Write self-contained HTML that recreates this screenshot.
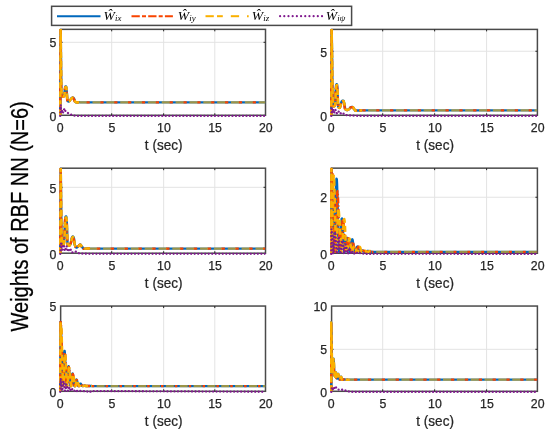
<!DOCTYPE html>
<html><head><meta charset="utf-8"><style>html,body{margin:0;padding:0;background:#fff;overflow:hidden}svg{display:block}</style></head><body>
<svg width="550" height="433" viewBox="0 0 550 433">
<rect width="550" height="433" fill="#fff"/>
<defs>
<clipPath id="cA"><rect x="59.05" y="29.05" width="206.45" height="88.11999999999999"/></clipPath>
<clipPath id="cB"><rect x="330.0" y="29.099999999999998" width="207.39999999999995" height="88.06000000000002"/></clipPath>
<clipPath id="cC"><rect x="59.05" y="167.89999999999998" width="206.45" height="87.2"/></clipPath>
<clipPath id="cD"><rect x="330.0" y="167.85" width="207.39999999999995" height="87.3"/></clipPath>
<clipPath id="cE"><rect x="59.05" y="305.75" width="206.45" height="87.45"/></clipPath>
<clipPath id="cF"><rect x="330.0" y="305.75" width="207.39999999999995" height="87.45"/></clipPath>
</defs>
<line x1="111.70" y1="29.35" x2="111.70" y2="115.27" stroke="#e3e3e3" stroke-width="1"/>
<line x1="163.65" y1="29.35" x2="163.65" y2="115.27" stroke="#e3e3e3" stroke-width="1"/>
<line x1="214.80" y1="29.35" x2="214.80" y2="115.27" stroke="#e3e3e3" stroke-width="1"/>
<line x1="60.65" y1="42.30" x2="265.5" y2="42.30" stroke="#e3e3e3" stroke-width="1"/>
<rect x="60.65" y="29.35" width="204.85" height="85.92" fill="none" stroke="#4a4a4a" stroke-width="1.5"/>
<line x1="111.70" y1="115.27" x2="111.70" y2="113.27" stroke="#262626" stroke-width="1"/>
<line x1="111.70" y1="29.35" x2="111.70" y2="31.35" stroke="#262626" stroke-width="1"/>
<line x1="163.65" y1="115.27" x2="163.65" y2="113.27" stroke="#262626" stroke-width="1"/>
<line x1="163.65" y1="29.35" x2="163.65" y2="31.35" stroke="#262626" stroke-width="1"/>
<line x1="214.80" y1="115.27" x2="214.80" y2="113.27" stroke="#262626" stroke-width="1"/>
<line x1="214.80" y1="29.35" x2="214.80" y2="31.35" stroke="#262626" stroke-width="1"/>
<line x1="60.65" y1="42.30" x2="62.65" y2="42.30" stroke="#262626" stroke-width="1"/>
<line x1="265.5" y1="42.30" x2="263.50" y2="42.30" stroke="#262626" stroke-width="1"/>
<g clip-path="url(#cA)" fill="none" stroke-width="2.5" stroke-linejoin="round">
<polyline points="60.20,115.27 60.60,29.60 60.80,44.60 61.00,60.00 61.20,79.15 61.40,92.00 61.60,94.43 61.80,95.75 62.00,96.11 62.20,96.28 62.40,96.40 62.60,96.48 62.80,96.50 63.00,96.49 63.20,96.45 63.40,96.38 63.60,96.28 63.80,96.16 64.00,96.00 64.20,95.21 64.40,93.65 64.60,92.00 64.80,90.31 65.00,88.62 65.20,87.49 65.40,86.66 65.60,86.46 65.80,86.42 66.00,86.40 66.20,86.91 66.40,88.00 66.60,89.99 66.80,92.74 67.00,95.25 67.20,97.97 67.40,100.05 67.60,100.67 67.80,100.97 68.00,101.20 68.20,101.37 68.40,101.47 68.60,101.50 68.80,101.46 69.00,101.34 69.20,101.16 69.40,100.94 69.60,100.69 69.80,100.43 70.00,100.16 70.20,99.91 70.40,99.69 70.60,99.43 70.80,99.15 71.00,98.87 71.20,98.59 71.40,98.35 71.60,98.14 71.80,98.00 72.00,97.89 72.20,97.79 72.40,97.71 72.60,97.64 72.80,97.60 73.00,97.62 73.20,97.73 73.40,97.93 73.60,98.19 73.80,98.49 74.00,98.80 74.20,99.21 74.40,99.78 74.60,100.41 74.80,101.02 75.00,101.51 75.20,101.80 75.40,101.95 75.60,102.09 75.80,102.22 76.00,102.33 76.20,102.42 76.40,102.50 76.60,102.55 76.80,102.59 77.00,102.60 77.20,102.59 77.40,102.57 77.60,102.54 77.80,102.49 78.00,102.45 78.20,102.41 78.40,102.36 78.60,102.33 78.80,102.31 79.00,102.30 79.20,102.30 79.40,102.31 79.60,102.32 79.80,102.33 80.00,102.35" stroke="#0068BD"/>
<polyline points="60.20,115.27 60.60,29.60 60.80,56.81 61.00,76.97 61.20,91.20 61.40,94.35 61.60,95.87 61.80,96.37 62.00,96.55 62.20,96.68 62.40,96.76 62.60,96.79 62.80,96.79 63.00,96.75 63.20,96.70 63.40,96.61 63.60,96.50 63.80,96.36 64.00,95.85 64.20,94.49 64.40,92.88 64.60,91.34 64.80,89.67 65.00,88.48 65.20,87.60 65.40,87.27 65.60,87.22 65.80,87.20 66.00,87.48 66.20,88.44 66.40,90.02 66.60,92.57 66.80,94.99 67.00,97.56 67.20,99.79 67.40,100.68 67.60,100.98 67.80,101.21 68.00,101.38 68.20,101.49 68.40,101.54 68.60,101.52 68.80,101.42 69.00,101.27 69.20,101.07 69.40,100.84 69.60,100.59 69.80,100.33 70.00,100.09 70.20,99.87 70.40,99.64 70.60,99.38 70.80,99.11 71.00,98.84 71.20,98.60 71.40,98.40 71.60,98.25 71.80,98.14 72.00,98.04 72.20,97.96 72.40,97.89 72.60,97.85 72.80,97.84 73.00,97.92 73.20,98.10 73.40,98.34 73.60,98.61 73.80,98.91 74.00,99.25 74.20,99.76 74.40,100.35 74.60,100.94 74.80,101.45 75.00,101.78 75.20,101.94 75.40,102.07 75.60,102.20 75.80,102.31 76.00,102.40 76.20,102.47 76.40,102.53 76.60,102.57 76.80,102.59 77.00,102.58 77.20,102.56 77.40,102.53 77.60,102.50 77.80,102.46 78.00,102.41 78.20,102.37 78.40,102.34 78.60,102.31 78.80,102.30 79.00,102.30 79.20,102.30 79.40,102.31 79.60,102.32 79.80,102.33 80.00,102.35" stroke="#F84400" stroke-dasharray="6,2,1.5,2"/>
<polyline points="60.20,115.27 60.60,29.60 60.80,41.38 61.00,54.38 61.20,69.79 61.40,87.95 61.60,93.63 61.80,95.44 62.00,96.19 62.20,96.38 62.40,96.53 62.60,96.62 62.80,96.67 63.00,96.67 63.20,96.65 63.40,96.60 63.60,96.52 63.80,96.41 64.00,96.27 64.20,95.94 64.40,94.72 64.60,93.08 64.80,91.53 65.00,89.81 65.20,88.43 65.40,87.48 65.60,86.98 65.80,86.91 66.00,86.88 66.20,87.01 66.40,87.87 66.60,89.22 66.80,91.68 67.00,94.25 67.20,96.79 67.40,99.25 67.60,100.56 67.80,100.88 68.00,101.13 68.20,101.33 68.40,101.45 68.60,101.52 68.80,101.51 69.00,101.44 69.20,101.29 69.40,101.10 69.60,100.87 69.80,100.61 70.00,100.36 70.20,100.10 70.40,99.88 70.60,99.64 70.80,99.38 71.00,99.11 71.20,98.84 71.40,98.58 71.60,98.36 71.80,98.19 72.00,98.08 72.20,97.98 72.40,97.88 72.60,97.81 72.80,97.76 73.00,97.74 73.20,97.80 73.40,97.96 73.60,98.19 73.80,98.46 74.00,98.76 74.20,99.08 74.40,99.57 74.60,100.16 74.80,100.77 75.00,101.31 75.20,101.71 75.40,101.89 75.60,102.03 75.80,102.16 76.00,102.28 76.20,102.38 76.40,102.46 76.60,102.52 76.80,102.57 77.00,102.59 77.20,102.59 77.40,102.57 77.60,102.55 77.80,102.51 78.00,102.47 78.20,102.43 78.40,102.38 78.60,102.35 78.80,102.32 79.00,102.30 79.20,102.30 79.40,102.31 79.60,102.32 79.80,102.33 80.00,102.35" stroke="#FAB000" stroke-dasharray="6,3"/>
<g stroke-width="2.2">
<line x1="80.0" y1="102.35" x2="265.5" y2="102.35" stroke="#0068BD"/>
<line x1="80.0" y1="102.35" x2="265.5" y2="102.35" stroke="#F84400" stroke-dasharray="3.3,10.55" stroke-dashoffset="7.40"/>
<line x1="80.0" y1="102.35" x2="265.5" y2="102.35" stroke="#FAB000" stroke-opacity="0.62" stroke-dasharray="8,5.85" stroke-dashoffset="1.35"/>
</g>
<polyline points="60.20,115.90 60.70,105.00 60.90,108.85 61.10,111.81 61.30,113.00 61.50,112.62 61.70,111.75 61.90,110.78 62.10,110.10 62.30,110.07 62.50,110.54 62.70,111.25 62.90,111.96 63.10,112.43 63.30,112.43 63.50,111.96 63.70,111.18 63.90,110.27 64.10,109.40 64.30,108.75 64.50,108.50 64.70,108.73 64.90,109.29 65.10,110.03 65.30,110.77 65.50,111.33 65.70,111.61 65.90,111.80 66.10,111.96 66.30,112.10 66.50,112.22 66.70,112.33 66.90,112.44 67.10,112.56 67.30,112.67 67.50,112.78 67.70,112.88 67.90,112.98 68.10,113.07 68.30,113.17 68.50,113.26 68.70,113.35 68.90,113.45 69.10,113.55 69.30,113.65 69.50,113.76 69.70,113.87 69.90,113.97 70.10,114.08 70.30,114.18 70.50,114.28 70.70,114.37 70.90,114.46 71.10,114.54 71.30,114.62 71.50,114.70 71.70,114.78 71.90,114.86 72.10,114.94 72.30,115.02 72.50,115.09 72.70,115.16 72.90,115.23 73.10,115.29 73.30,115.35 73.50,115.40 73.70,115.44 73.90,115.48 74.10,115.52 74.30,115.55 74.50,115.58 74.70,115.61 74.90,115.64 75.10,115.67 75.30,115.69 75.50,115.72 75.70,115.74 75.90,115.77 76.10,115.79 76.30,115.81 76.50,115.83 76.70,115.85 76.90,115.86 77.10,115.87 77.30,115.88 77.50,115.89 77.70,115.90 77.90,115.90 78.10,115.90 78.30,115.90 78.50,115.90 78.70,115.90 78.90,115.90 79.10,115.90 79.30,115.90 79.50,115.90 79.70,115.90 79.90,115.90 80.10,115.90 80.30,115.90 80.50,115.90 80.70,115.90 80.90,115.90 81.10,115.90 81.30,115.90 81.50,115.90 81.70,115.90 81.90,115.90 265.5,115.9" stroke="#801a8e" stroke-dasharray="0.01,3.5" stroke-linecap="round" stroke-width="2.3"/>
</g>
<g font-family="Liberation Sans, Arial, sans-serif" font-size="12.3" fill="#262626" stroke="#262626" stroke-width="0.25">
<text x="60.25" y="132.27" text-anchor="middle">0</text>
<text x="112.00" y="132.27" text-anchor="middle">5</text>
<text x="163.95" y="132.27" text-anchor="middle">10</text>
<text x="215.10" y="132.27" text-anchor="middle">15</text>
<text x="265.80" y="132.27" text-anchor="middle">20</text>
<text x="56.25" y="121.02" text-anchor="end">0</text>
<text x="56.25" y="47.30" text-anchor="end">5</text>
</g>
<text transform="translate(163.67,149.87) scale(0.93,1)" text-anchor="middle" font-family="Liberation Sans, Arial, sans-serif" font-size="14.6" fill="#262626" stroke="#262626" stroke-width="0.25">t (sec)</text>
<line x1="382.70" y1="29.4" x2="382.70" y2="115.26" stroke="#e3e3e3" stroke-width="1"/>
<line x1="434.65" y1="29.4" x2="434.65" y2="115.26" stroke="#e3e3e3" stroke-width="1"/>
<line x1="486.60" y1="29.4" x2="486.60" y2="115.26" stroke="#e3e3e3" stroke-width="1"/>
<line x1="331.6" y1="51.25" x2="537.4" y2="51.25" stroke="#e3e3e3" stroke-width="1"/>
<rect x="331.6" y="29.4" width="205.80" height="85.86" fill="none" stroke="#4a4a4a" stroke-width="1.5"/>
<line x1="382.70" y1="115.26" x2="382.70" y2="113.26" stroke="#262626" stroke-width="1"/>
<line x1="382.70" y1="29.4" x2="382.70" y2="31.40" stroke="#262626" stroke-width="1"/>
<line x1="434.65" y1="115.26" x2="434.65" y2="113.26" stroke="#262626" stroke-width="1"/>
<line x1="434.65" y1="29.4" x2="434.65" y2="31.40" stroke="#262626" stroke-width="1"/>
<line x1="486.60" y1="115.26" x2="486.60" y2="113.26" stroke="#262626" stroke-width="1"/>
<line x1="486.60" y1="29.4" x2="486.60" y2="31.40" stroke="#262626" stroke-width="1"/>
<line x1="331.6" y1="51.25" x2="333.60" y2="51.25" stroke="#262626" stroke-width="1"/>
<line x1="537.4" y1="51.25" x2="535.40" y2="51.25" stroke="#262626" stroke-width="1"/>
<g clip-path="url(#cB)" fill="none" stroke-width="2.5" stroke-linejoin="round">
<polyline points="331.30,115.26 331.60,29.60 331.80,40.14 332.00,52.95 332.20,68.80 332.40,88.70 332.60,98.70 332.80,104.03 333.00,105.23 333.20,105.61 333.40,105.88 333.60,106.07 333.80,106.17 334.00,106.20 334.20,106.15 334.40,105.98 334.60,105.68 334.80,105.26 335.00,104.70 335.20,104.00 335.40,99.93 335.60,93.34 335.80,89.36 336.00,86.50 336.20,85.00 336.40,84.57 336.60,84.30 336.80,84.20 337.00,84.75 337.20,86.12 337.40,88.54 337.60,93.62 337.80,98.21 338.00,102.92 338.20,106.37 338.40,107.13 338.60,107.35 338.80,107.52 339.00,107.65 339.20,107.73 339.40,107.78 339.60,107.80 339.80,107.64 340.00,107.21 340.20,106.60 340.40,105.89 340.60,105.16 340.80,104.50 341.00,103.79 341.20,102.97 341.40,102.17 341.60,101.53 341.80,101.20 342.00,101.07 342.20,100.96 342.40,100.87 342.60,100.80 342.80,100.74 343.00,100.71 343.20,100.70 343.40,100.84 343.60,101.21 343.80,101.76 344.00,102.42 344.20,103.14 344.40,103.94 344.60,105.22 344.80,106.74 345.00,108.15 345.20,109.10 345.40,109.38 345.60,109.53 345.80,109.65 346.00,109.76 346.20,109.85 346.40,109.91 346.60,109.96 346.80,109.99 347.00,110.00 347.20,109.99 347.40,109.95 347.60,109.90 347.80,109.83 348.00,109.75 348.20,109.65 348.40,109.54 348.60,109.43 348.80,109.32 349.00,109.20 349.20,109.05 349.40,108.84 349.60,108.59 349.80,108.32 350.00,108.05 350.20,107.79 350.40,107.57 350.60,107.40 350.80,107.30 351.00,107.24 351.20,107.19 351.40,107.14 351.60,107.10 351.80,107.06 352.00,107.03 352.20,107.01 352.40,107.00 352.60,107.02 352.80,107.13 353.00,107.33 353.20,107.59 353.40,107.89 353.60,108.21 353.80,108.52 354.00,108.80 354.20,109.09 354.40,109.42 354.60,109.78 354.80,110.12 355.00,110.42 355.20,110.65 355.40,110.78 355.60,110.80 355.80,110.78 356.00,110.76 356.20,110.72 356.40,110.68 356.60,110.64 356.80,110.59 357.00,110.54 357.20,110.50 357.40,110.46 357.60,110.43 357.80,110.41 358.00,110.40 358.20,110.40 358.40,110.40 358.60,110.40 358.80,110.40 359.00,110.40 359.20,110.40 359.40,110.40 359.60,110.40 359.80,110.40 360.00,110.41 360.20,110.41 360.40,110.41 360.60,110.41 360.80,110.42 361.00,110.42 361.20,110.43 361.40,110.43 361.60,110.44 361.80,110.44 362.00,110.45" stroke="#0068BD"/>
<polyline points="331.30,115.26 331.60,29.60 331.80,48.88 332.00,67.13 332.20,86.19 332.40,97.58 332.60,103.43 332.80,105.38 333.00,105.77 333.20,106.05 333.40,106.25 333.60,106.36 333.80,106.41 334.00,106.38 334.20,106.25 334.40,106.00 334.60,105.63 334.80,105.14 335.00,104.50 335.20,101.87 335.40,95.67 335.60,91.19 335.80,88.29 336.00,86.46 336.20,85.96 336.40,85.66 336.60,85.52 336.80,85.81 337.00,86.96 337.20,88.77 337.40,93.19 337.60,97.74 337.80,102.22 338.00,105.98 338.20,107.23 338.40,107.45 338.60,107.63 338.80,107.76 339.00,107.85 339.20,107.91 339.40,107.93 339.60,107.84 339.80,107.49 340.00,106.95 340.20,106.29 340.40,105.60 340.60,104.94 340.80,104.31 341.00,103.54 341.20,102.76 341.40,102.11 341.60,101.71 341.80,101.57 342.00,101.46 342.20,101.37 342.40,101.30 342.60,101.24 342.80,101.20 343.00,101.19 343.20,101.26 343.40,101.57 343.60,102.05 343.80,102.66 344.00,103.33 344.20,104.04 344.40,105.15 344.60,106.56 344.80,107.96 345.00,109.00 345.20,109.40 345.40,109.54 345.60,109.66 345.80,109.77 346.00,109.86 346.20,109.93 346.40,109.98 346.60,110.01 346.80,110.02 347.00,110.02 347.20,109.99 347.40,109.94 347.60,109.88 347.80,109.80 348.00,109.71 348.20,109.62 348.40,109.51 348.60,109.40 348.80,109.29 349.00,109.16 349.20,108.97 349.40,108.75 349.60,108.49 349.80,108.23 350.00,107.99 350.20,107.76 350.40,107.59 350.60,107.47 350.80,107.42 351.00,107.36 351.20,107.32 351.40,107.27 351.60,107.24 351.80,107.21 352.00,107.19 352.20,107.18 352.40,107.18 352.60,107.26 352.80,107.43 353.00,107.67 353.20,107.95 353.40,108.25 353.60,108.55 353.80,108.82 354.00,109.08 354.20,109.39 354.40,109.73 354.60,110.06 354.80,110.36 355.00,110.60 355.20,110.75 355.40,110.78 355.60,110.77 355.80,110.75 356.00,110.72 356.20,110.68 356.40,110.64 356.60,110.59 356.80,110.55 357.00,110.50 357.20,110.47 357.40,110.44 357.60,110.41 357.80,110.40 358.00,110.40 358.20,110.40 358.40,110.40 358.60,110.40 358.80,110.40 359.00,110.40 359.20,110.40 359.40,110.40 359.60,110.41 359.80,110.41 360.00,110.41 360.20,110.41 360.40,110.41 360.60,110.42 360.80,110.42 361.00,110.42 361.20,110.43 361.40,110.43 361.60,110.44 361.80,110.44 362.00,110.45" stroke="#F84400" stroke-dasharray="6,2,1.5,2"/>
<polyline points="331.30,115.26 331.60,29.60 331.80,37.96 332.00,48.86 332.20,61.51 332.40,79.92 332.60,95.46 332.80,102.08 333.00,105.16 333.20,105.58 333.40,105.90 333.60,106.12 333.80,106.26 334.00,106.32 334.20,106.31 334.40,106.21 334.60,105.98 334.80,105.64 335.00,105.16 335.20,104.55 335.40,102.90 335.60,96.99 335.80,91.58 336.00,88.50 336.20,86.27 336.40,85.54 336.60,85.20 336.80,85.01 337.00,85.13 337.20,86.11 337.40,87.70 337.60,91.53 337.80,96.43 338.00,100.90 338.20,105.10 338.40,107.10 338.60,107.34 338.80,107.53 339.00,107.67 339.20,107.78 339.40,107.84 339.60,107.88 339.80,107.84 340.00,107.54 340.20,107.03 340.40,106.38 340.60,105.67 340.80,104.99 341.00,104.36 341.20,103.60 341.40,102.80 341.60,102.08 341.80,101.59 342.00,101.41 342.20,101.30 342.40,101.20 342.60,101.12 342.80,101.06 343.00,101.02 343.20,101.00 343.40,101.03 343.60,101.28 343.80,101.74 344.00,102.33 344.20,103.01 344.40,103.71 344.60,104.71 344.80,106.11 345.00,107.57 345.20,108.76 345.40,109.33 345.60,109.49 345.80,109.62 346.00,109.73 346.20,109.82 346.40,109.90 346.60,109.96 346.80,109.99 347.00,110.01 347.20,110.01 347.40,109.99 347.60,109.95 347.80,109.89 348.00,109.81 348.20,109.72 348.40,109.62 348.60,109.52 348.80,109.41 349.00,109.29 349.20,109.17 349.40,108.99 349.60,108.77 349.80,108.52 350.00,108.25 350.20,108.00 350.40,107.76 350.60,107.57 350.80,107.43 351.00,107.37 351.20,107.31 351.40,107.26 351.60,107.22 351.80,107.18 352.00,107.15 352.20,107.12 352.40,107.11 352.60,107.10 352.80,107.16 353.00,107.31 353.20,107.54 353.40,107.82 353.60,108.12 353.80,108.43 354.00,108.72 354.20,108.98 354.40,109.29 354.60,109.62 354.80,109.97 355.00,110.28 355.20,110.55 355.40,110.72 355.60,110.79 355.80,110.78 356.00,110.76 356.20,110.73 356.40,110.70 356.60,110.65 356.80,110.61 357.00,110.56 357.20,110.52 357.40,110.48 357.60,110.44 357.80,110.42 358.00,110.40 358.20,110.40 358.40,110.40 358.60,110.40 358.80,110.40 359.00,110.40 359.20,110.40 359.40,110.40 359.60,110.40 359.80,110.41 360.00,110.41 360.20,110.41 360.40,110.41 360.60,110.41 360.80,110.42 361.00,110.42 361.20,110.43 361.40,110.43 361.60,110.44 361.80,110.44 362.00,110.45" stroke="#FAB000" stroke-dasharray="6,3"/>
<g stroke-width="2.2">
<line x1="362.0" y1="110.45" x2="537.4" y2="110.45" stroke="#0068BD"/>
<line x1="362.0" y1="110.45" x2="537.4" y2="110.45" stroke="#F84400" stroke-dasharray="3.3,10.55" stroke-dashoffset="13.50"/>
<line x1="362.0" y1="110.45" x2="537.4" y2="110.45" stroke="#FAB000" stroke-opacity="0.62" stroke-dasharray="8,5.85" stroke-dashoffset="7.65"/>
</g>
<polyline points="331.30,115.90 331.80,108.50 332.00,110.13 332.20,111.39 332.40,112.21 332.60,112.50 332.80,112.12 333.00,111.25 333.20,110.28 333.40,109.60 333.60,109.59 333.80,110.21 334.00,111.15 334.20,112.09 334.40,112.71 334.60,112.73 334.80,112.29 335.00,111.59 335.20,110.84 335.40,110.24 335.60,110.00 335.80,110.24 336.00,110.83 336.20,111.60 336.40,112.37 336.60,112.96 336.80,113.20 337.00,113.08 337.20,112.76 337.40,112.33 337.60,111.87 337.80,111.44 338.00,111.12 338.20,111.00 338.40,111.12 338.60,111.44 338.80,111.89 339.00,112.40 339.20,112.91 339.40,113.36 339.60,113.68 339.80,113.80 340.00,113.77 340.20,113.69 340.40,113.56 340.60,113.41 340.80,113.24 341.00,113.06 341.20,112.89 341.40,112.74 341.60,112.61 341.80,112.53 342.00,112.50 342.20,112.53 342.40,112.60 342.60,112.72 342.80,112.86 343.00,113.04 343.20,113.24 343.40,113.45 343.60,113.66 343.80,113.88 344.00,114.09 344.20,114.29 344.40,114.46 344.60,114.61 344.80,114.73 345.00,114.80 345.20,114.85 345.40,114.90 345.60,114.94 345.80,114.98 346.00,115.02 346.20,115.06 346.40,115.10 346.60,115.13 346.80,115.17 347.00,115.20 347.20,115.23 347.40,115.26 347.60,115.28 347.80,115.31 348.00,115.33 348.20,115.35 348.40,115.37 348.60,115.39 348.80,115.41 349.00,115.43 349.20,115.45 349.40,115.46 349.60,115.47 349.80,115.49 350.00,115.50 350.20,115.51 350.40,115.52 350.60,115.53 350.80,115.55 351.00,115.56 351.20,115.57 351.40,115.58 351.60,115.59 351.80,115.60 352.00,115.61 352.20,115.62 352.40,115.63 352.60,115.64 352.80,115.65 353.00,115.66 353.20,115.67 353.40,115.68 353.60,115.69 353.80,115.70 354.00,115.71 354.20,115.72 354.40,115.73 354.60,115.73 354.80,115.74 355.00,115.75 355.20,115.76 355.40,115.77 355.60,115.77 355.80,115.78 356.00,115.79 356.20,115.80 356.40,115.80 356.60,115.81 356.80,115.81 357.00,115.82 357.20,115.83 357.40,115.83 357.60,115.84 357.80,115.84 358.00,115.85 358.20,115.85 358.40,115.86 358.60,115.86 358.80,115.87 359.00,115.87 359.20,115.87 359.40,115.88 359.60,115.88 359.80,115.88 360.00,115.89 360.20,115.89 360.40,115.89 360.60,115.89 360.80,115.90 361.00,115.90 361.20,115.90 361.40,115.90 361.60,115.90 361.80,115.90 362.00,115.90 537.4,115.9" stroke="#801a8e" stroke-dasharray="0.01,3.5" stroke-linecap="round" stroke-width="2.3"/>
</g>
<g font-family="Liberation Sans, Arial, sans-serif" font-size="12.3" fill="#262626" stroke="#262626" stroke-width="0.25">
<text x="331.20" y="132.26" text-anchor="middle">0</text>
<text x="383.00" y="132.26" text-anchor="middle">5</text>
<text x="434.95" y="132.26" text-anchor="middle">10</text>
<text x="486.90" y="132.26" text-anchor="middle">15</text>
<text x="537.70" y="132.26" text-anchor="middle">20</text>
<text x="327.20" y="121.01" text-anchor="end">0</text>
<text x="327.20" y="57.00" text-anchor="end">5</text>
</g>
<text transform="translate(435.10,149.86) scale(0.93,1)" text-anchor="middle" font-family="Liberation Sans, Arial, sans-serif" font-size="14.6" fill="#262626" stroke="#262626" stroke-width="0.25">t (sec)</text>
<line x1="111.70" y1="168.2" x2="111.70" y2="253.2" stroke="#e3e3e3" stroke-width="1"/>
<line x1="163.65" y1="168.2" x2="163.65" y2="253.2" stroke="#e3e3e3" stroke-width="1"/>
<line x1="214.80" y1="168.2" x2="214.80" y2="253.2" stroke="#e3e3e3" stroke-width="1"/>
<line x1="60.65" y1="187.30" x2="265.5" y2="187.30" stroke="#e3e3e3" stroke-width="1"/>
<rect x="60.65" y="168.2" width="204.85" height="85.00" fill="none" stroke="#4a4a4a" stroke-width="1.5"/>
<line x1="111.70" y1="253.2" x2="111.70" y2="251.20" stroke="#262626" stroke-width="1"/>
<line x1="111.70" y1="168.2" x2="111.70" y2="170.20" stroke="#262626" stroke-width="1"/>
<line x1="163.65" y1="253.2" x2="163.65" y2="251.20" stroke="#262626" stroke-width="1"/>
<line x1="163.65" y1="168.2" x2="163.65" y2="170.20" stroke="#262626" stroke-width="1"/>
<line x1="214.80" y1="253.2" x2="214.80" y2="251.20" stroke="#262626" stroke-width="1"/>
<line x1="214.80" y1="168.2" x2="214.80" y2="170.20" stroke="#262626" stroke-width="1"/>
<line x1="60.65" y1="187.30" x2="62.65" y2="187.30" stroke="#262626" stroke-width="1"/>
<line x1="265.5" y1="187.30" x2="263.50" y2="187.30" stroke="#262626" stroke-width="1"/>
<g clip-path="url(#cC)" fill="none" stroke-width="2.5" stroke-linejoin="round">
<polyline points="60.20,253.20 60.70,168.50 60.90,183.82 61.10,200.00 61.30,219.78 61.50,235.00 61.70,241.54 61.90,244.50 62.10,244.77 62.30,244.97 62.50,245.10 62.70,245.18 62.90,245.20 63.10,245.14 63.30,244.95 63.50,244.64 63.70,244.24 63.90,243.53 64.10,241.50 64.30,238.47 64.50,235.00 64.70,229.85 64.90,224.00 65.10,220.59 65.30,218.22 65.50,217.00 65.70,216.63 65.90,216.43 66.10,216.48 66.30,217.04 66.50,218.00 66.70,220.81 66.90,225.57 67.10,230.82 67.30,237.94 67.50,243.60 67.70,244.72 67.90,244.94 68.10,245.11 68.30,245.25 68.50,245.36 68.70,245.43 68.90,245.48 69.10,245.50 69.30,245.49 69.50,245.38 69.70,245.18 69.90,244.90 70.10,244.55 70.30,244.15 70.50,243.71 70.70,243.24 70.90,242.71 71.10,241.85 71.30,240.78 71.50,239.67 71.70,238.69 71.90,238.00 72.10,237.52 72.30,237.08 72.50,236.73 72.70,236.53 72.90,236.52 73.10,236.67 73.30,236.94 73.50,237.31 73.70,237.76 73.90,238.37 74.10,239.71 74.30,241.49 74.50,243.26 74.70,244.62 74.90,245.25 75.10,245.73 75.30,246.16 75.50,246.55 75.70,246.87 75.90,247.14 76.10,247.34 76.30,247.46 76.50,247.50 76.70,247.47 76.90,247.39 77.10,247.28 77.30,247.12 77.50,246.95 77.70,246.75 77.90,246.56 78.10,246.36 78.30,246.17 78.50,246.00 78.70,245.82 78.90,245.62 79.10,245.40 79.30,245.19 79.50,244.98 79.70,244.81 79.90,244.68 80.10,244.61 80.30,244.61 80.50,244.72 80.70,244.91 80.90,245.16 81.10,245.46 81.30,245.78 81.50,246.11 81.70,246.41 81.90,246.68 82.10,246.91 82.30,247.15 82.50,247.40 82.70,247.65 82.90,247.90 83.10,248.13 83.30,248.34 83.50,248.50 83.70,248.63 83.90,248.69 84.10,248.70 84.30,248.69 84.50,248.69 84.70,248.67 84.90,248.66 85.10,248.64 85.30,248.62 85.50,248.60 85.70,248.58 85.90,248.56 86.10,248.54 86.30,248.53 86.50,248.51 86.70,248.51 86.90,248.50 87.10,248.50 87.30,248.50 87.50,248.50 87.70,248.51 87.90,248.51 88.10,248.52 88.30,248.53 88.50,248.53 88.70,248.54 88.90,248.56 89.10,248.57 89.30,248.58 89.50,248.60 89.70,248.62 89.90,248.64" stroke="#0068BD"/>
<polyline points="60.20,253.20 60.70,168.50 60.90,196.79 61.10,217.86 61.30,233.47 61.50,240.57 61.70,244.46 61.90,244.91 62.10,245.12 62.30,245.26 62.50,245.34 62.70,245.37 62.90,245.34 63.10,245.19 63.30,244.93 63.50,244.56 63.70,244.06 63.90,242.45 64.10,239.76 64.30,236.52 64.50,232.22 64.70,226.48 64.90,222.65 65.10,220.23 65.30,218.74 65.50,218.31 65.70,218.07 65.90,218.03 66.10,218.44 66.30,219.28 66.50,221.28 66.70,225.53 66.90,230.26 67.10,236.76 67.30,242.85 67.50,244.86 67.70,245.08 67.90,245.25 68.10,245.39 68.30,245.50 68.50,245.58 68.70,245.63 68.90,245.65 69.10,245.65 69.30,245.58 69.50,245.41 69.70,245.16 69.90,244.84 70.10,244.47 70.30,244.06 70.50,243.62 70.70,243.16 70.90,242.42 71.10,241.44 71.30,240.38 71.50,239.40 71.70,238.66 71.90,238.19 72.10,237.76 72.30,237.40 72.50,237.17 72.70,237.11 72.90,237.22 73.10,237.45 73.30,237.78 73.50,238.19 73.70,238.68 73.90,239.79 74.10,241.41 74.30,243.13 74.50,244.56 74.70,245.30 74.90,245.77 75.10,246.19 75.30,246.57 75.50,246.89 75.70,247.16 75.90,247.36 76.10,247.50 76.30,247.55 76.50,247.54 76.70,247.48 76.90,247.38 77.10,247.24 77.30,247.08 77.50,246.90 77.70,246.71 77.90,246.52 78.10,246.34 78.30,246.17 78.50,246.01 78.70,245.82 78.90,245.62 79.10,245.41 79.30,245.21 79.50,245.04 79.70,244.91 79.90,244.82 80.10,244.81 80.30,244.88 80.50,245.04 80.70,245.27 80.90,245.54 81.10,245.85 81.30,246.16 81.50,246.45 81.70,246.72 81.90,246.94 82.10,247.16 82.30,247.40 82.50,247.64 82.70,247.88 82.90,248.10 83.10,248.31 83.30,248.47 83.50,248.60 83.70,248.68 83.90,248.70 84.10,248.69 84.30,248.69 84.50,248.67 84.70,248.66 84.90,248.64 85.10,248.63 85.30,248.61 85.50,248.59 85.70,248.57 85.90,248.55 86.10,248.54 86.30,248.52 86.50,248.51 86.70,248.51 86.90,248.51 87.10,248.51 87.30,248.51 87.50,248.51 87.70,248.52 87.90,248.52 88.10,248.53 88.30,248.53 88.50,248.54 88.70,248.55 88.90,248.56 89.10,248.58 89.30,248.59 89.50,248.60 89.70,248.62 89.90,248.64" stroke="#F84400" stroke-dasharray="6,2,1.5,2"/>
<polyline points="60.20,253.20 60.70,168.50 60.90,180.51 61.10,194.15 61.30,210.28 61.50,229.46 61.70,238.86 61.90,243.78 62.10,244.77 62.30,245.00 62.50,245.15 62.70,245.25 62.90,245.30 63.10,245.29 63.30,245.16 63.50,244.92 63.70,244.58 63.90,244.14 64.10,242.86 64.30,240.33 64.50,237.11 64.70,233.23 64.90,227.43 65.10,222.80 65.30,220.18 65.50,218.36 65.70,217.76 65.90,217.47 66.10,217.37 66.30,217.66 66.50,218.42 66.70,219.91 66.90,223.85 67.10,228.62 67.30,234.73 67.50,241.43 67.70,244.72 67.90,244.95 68.10,245.14 68.30,245.29 68.50,245.41 68.70,245.49 68.90,245.55 69.10,245.58 69.30,245.59 69.50,245.54 69.70,245.39 69.90,245.15 70.10,244.85 70.30,244.48 70.50,244.07 70.70,243.63 70.90,243.17 71.10,242.50 71.30,241.55 71.50,240.47 71.70,239.44 71.90,238.61 72.10,238.09 72.30,237.63 72.50,237.24 72.70,236.97 72.90,236.86 73.10,236.94 73.30,237.15 73.50,237.46 73.70,237.86 73.90,238.32 74.10,239.25 74.30,240.81 74.50,242.59 74.70,244.16 74.90,245.11 75.10,245.59 75.30,246.03 75.50,246.43 75.70,246.78 75.90,247.06 76.10,247.29 76.30,247.44 76.50,247.52 76.70,247.53 76.90,247.48 77.10,247.38 77.30,247.25 77.50,247.09 77.70,246.91 77.90,246.71 78.10,246.52 78.30,246.33 78.50,246.16 78.70,246.00 78.90,245.81 79.10,245.61 79.30,245.39 79.50,245.19 79.70,245.01 79.90,244.86 80.10,244.76 80.30,244.72 80.50,244.77 80.70,244.92 80.90,245.14 81.10,245.41 81.30,245.71 81.50,246.03 81.70,246.33 81.90,246.62 82.10,246.86 82.30,247.08 82.50,247.31 82.70,247.56 82.90,247.80 83.10,248.04 83.30,248.25 83.50,248.43 83.70,248.57 83.90,248.67 84.10,248.70 84.30,248.70 84.50,248.69 84.70,248.68 84.90,248.66 85.10,248.65 85.30,248.63 85.50,248.61 85.70,248.59 85.90,248.57 86.10,248.55 86.30,248.54 86.50,248.52 86.70,248.51 86.90,248.51 87.10,248.50 87.30,248.51 87.50,248.51 87.70,248.51 87.90,248.51 88.10,248.52 88.30,248.53 88.50,248.54 88.70,248.55 88.90,248.56 89.10,248.57 89.30,248.59 89.50,248.60 89.70,248.62 89.90,248.64" stroke="#FAB000" stroke-dasharray="6,3"/>
<g stroke-width="2.2">
<line x1="90.0" y1="248.65" x2="265.5" y2="248.65" stroke="#0068BD"/>
<line x1="90.0" y1="248.65" x2="265.5" y2="248.65" stroke="#F84400" stroke-dasharray="3.5,10.35" stroke-dashoffset="7.10"/>
<line x1="90.0" y1="248.65" x2="265.5" y2="248.65" stroke="#FAB000" stroke-opacity="0.62" stroke-dasharray="8,5.85" stroke-dashoffset="0.75"/>
</g>
<polyline points="60.20,253.80 61.00,243.50 61.20,245.38 61.40,246.97 61.60,248.26 61.80,249.21 62.00,249.80 62.20,250.00 62.40,249.65 62.60,248.76 62.80,247.57 63.00,246.31 63.20,245.24 63.40,244.59 63.60,244.58 63.80,245.18 64.00,246.19 64.20,247.43 64.40,248.71 64.60,249.86 64.80,250.68 65.00,251.00 65.20,250.76 65.40,250.12 65.60,249.24 65.80,248.25 66.00,247.30 66.20,246.52 66.40,246.06 66.60,246.07 66.80,246.57 67.00,247.43 67.20,248.48 67.40,249.56 67.60,250.54 67.80,251.23 68.00,251.50 68.20,251.42 68.40,251.19 68.60,250.85 68.80,250.44 69.00,250.00 69.20,249.56 69.40,249.15 69.60,248.81 69.80,248.58 70.00,248.50 70.20,248.61 70.40,248.92 70.60,249.36 70.80,249.91 71.00,250.50 71.20,251.09 71.40,251.64 71.60,252.08 71.80,252.39 72.00,252.50 72.20,252.49 72.40,252.45 72.60,252.40 72.80,252.32 73.00,252.24 73.20,252.15 73.40,252.05 73.60,251.95 73.80,251.85 74.00,251.76 74.20,251.68 74.40,251.60 74.60,251.55 74.80,251.51 75.00,251.50 75.20,251.51 75.40,251.53 75.60,251.58 75.80,251.63 76.00,251.70 76.20,251.78 76.40,251.87 76.60,251.96 76.80,252.07 77.00,252.17 77.20,252.29 77.40,252.40 77.60,252.52 77.80,252.64 78.00,252.75 78.20,252.86 78.40,252.97 78.60,253.07 78.80,253.17 79.00,253.25 79.20,253.33 79.40,253.39 79.60,253.44 79.80,253.48 80.00,253.50 80.20,253.51 80.40,253.52 80.60,253.54 80.80,253.55 81.00,253.56 81.20,253.57 81.40,253.58 81.60,253.59 81.80,253.60 82.00,253.61 82.20,253.62 82.40,253.63 82.60,253.64 82.80,253.65 83.00,253.66 83.20,253.66 83.40,253.67 83.60,253.68 83.80,253.69 84.00,253.69 84.20,253.70 84.40,253.71 84.60,253.71 84.80,253.72 85.00,253.73 85.20,253.73 85.40,253.74 85.60,253.74 85.80,253.75 86.00,253.75 86.20,253.76 86.40,253.76 86.60,253.77 86.80,253.77 87.00,253.77 87.20,253.78 87.40,253.78 87.60,253.78 87.80,253.79 88.00,253.79 88.20,253.79 88.40,253.79 88.60,253.79 88.80,253.80 89.00,253.80 89.20,253.80 89.40,253.80 89.60,253.80 89.80,253.80 90.00,253.80 265.5,253.8" stroke="#801a8e" stroke-dasharray="0.01,3.5" stroke-linecap="round" stroke-width="2.3"/>
</g>
<g font-family="Liberation Sans, Arial, sans-serif" font-size="12.3" fill="#262626" stroke="#262626" stroke-width="0.25">
<text x="60.25" y="270.20" text-anchor="middle">0</text>
<text x="112.00" y="270.20" text-anchor="middle">5</text>
<text x="163.95" y="270.20" text-anchor="middle">10</text>
<text x="215.10" y="270.20" text-anchor="middle">15</text>
<text x="265.80" y="270.20" text-anchor="middle">20</text>
<text x="56.25" y="258.95" text-anchor="end">0</text>
<text x="56.25" y="193.20" text-anchor="end">5</text>
</g>
<text transform="translate(163.67,287.80) scale(0.93,1)" text-anchor="middle" font-family="Liberation Sans, Arial, sans-serif" font-size="14.6" fill="#262626" stroke="#262626" stroke-width="0.25">t (sec)</text>
<line x1="382.70" y1="168.15" x2="382.70" y2="253.25" stroke="#e3e3e3" stroke-width="1"/>
<line x1="434.65" y1="168.15" x2="434.65" y2="253.25" stroke="#e3e3e3" stroke-width="1"/>
<line x1="486.60" y1="168.15" x2="486.60" y2="253.25" stroke="#e3e3e3" stroke-width="1"/>
<line x1="331.6" y1="197.25" x2="537.4" y2="197.25" stroke="#e3e3e3" stroke-width="1"/>
<rect x="331.6" y="168.15" width="205.80" height="85.10" fill="none" stroke="#4a4a4a" stroke-width="1.5"/>
<line x1="382.70" y1="253.25" x2="382.70" y2="251.25" stroke="#262626" stroke-width="1"/>
<line x1="382.70" y1="168.15" x2="382.70" y2="170.15" stroke="#262626" stroke-width="1"/>
<line x1="434.65" y1="253.25" x2="434.65" y2="251.25" stroke="#262626" stroke-width="1"/>
<line x1="434.65" y1="168.15" x2="434.65" y2="170.15" stroke="#262626" stroke-width="1"/>
<line x1="486.60" y1="253.25" x2="486.60" y2="251.25" stroke="#262626" stroke-width="1"/>
<line x1="486.60" y1="168.15" x2="486.60" y2="170.15" stroke="#262626" stroke-width="1"/>
<line x1="331.6" y1="197.25" x2="333.60" y2="197.25" stroke="#262626" stroke-width="1"/>
<line x1="537.4" y1="197.25" x2="535.40" y2="197.25" stroke="#262626" stroke-width="1"/>
<g clip-path="url(#cD)" fill="none" stroke-width="2.5" stroke-linejoin="round">
<polyline points="331.20,253.30 331.45,168.40 331.50,168.40 331.75,171.66 332.00,178.33 332.25,187.70 332.50,198.86 332.75,210.84 333.00,222.65 333.25,233.42 333.50,242.30 333.75,248.55 334.00,251.62 334.25,251.28 334.50,247.56 334.75,240.82 335.00,231.67 335.25,220.96 335.50,209.69 335.75,198.90 336.00,189.60 336.25,182.67 336.50,178.85 336.75,179.42 337.00,184.28 337.25,192.50 337.50,202.82 337.75,213.90 338.00,224.55 338.25,233.91 338.50,241.69 338.75,247.34 339.00,250.64 339.25,251.87 339.50,251.40 339.75,249.43 340.00,246.17 340.25,241.91 340.50,237.05 340.75,232.03 341.00,227.30 341.25,223.28 341.50,220.33 341.75,218.73 342.00,218.61 342.25,219.98 342.50,222.74 342.75,226.62 343.00,231.27 343.25,236.28 343.50,241.19 343.75,245.55 344.00,248.98 344.25,251.16 344.50,251.90 344.75,251.16 345.00,249.03 345.25,245.97 345.50,242.98 345.75,240.91 346.00,240.03 346.25,239.88 346.50,239.31 346.75,238.31 347.00,237.90 347.25,238.10 347.50,238.89 347.75,240.20 348.00,241.92 348.25,243.90 348.50,245.96 348.75,247.93 349.00,249.64 349.25,250.93 349.50,251.71 349.75,251.89 350.00,251.47 350.25,250.49 350.50,249.04 350.75,247.27 351.00,245.34 351.25,243.44 351.50,241.74 351.75,240.42 352.00,239.59 352.25,239.34 352.50,239.68 352.75,240.95 353.00,243.09 353.25,245.49 353.50,247.65 353.75,249.27 354.00,250.32 354.25,251.05 354.50,251.57 354.75,251.85 355.00,251.88 355.25,251.66 355.50,251.21 355.75,250.58 356.00,249.83 356.25,249.02 356.50,248.24 356.75,247.55 357.00,247.01 357.25,246.67 357.50,246.56 357.75,246.70 358.00,247.07 358.25,247.64 358.50,248.35 358.75,249.14 359.00,249.94 359.25,250.67 359.50,251.26 359.75,251.68 360.00,251.88 360.25,251.86 360.50,251.66 360.75,251.36 361.00,251.07 361.25,250.88 361.50,250.81 361.75,250.80 362.00,250.74 362.25,250.63 362.50,250.58 362.75,250.59 363.00,250.66 363.25,250.77 363.50,250.93 363.75,251.11 364.00,251.30 364.25,251.49 364.50,251.65 364.75,251.78 365.00,251.86 365.25,251.90 365.50,251.88 365.75,251.82 366.00,251.72 366.25,251.60 366.50,251.45 366.75,251.31 367.00,251.17 367.25,251.06 367.50,250.98 367.75,250.94 368.00,250.95 368.25,250.99 368.50,251.08 368.75,251.19 369.00,251.32 369.25,251.47 369.50,251.60 369.75,251.72 370.00,251.82 370.25,251.88 370.50,251.90 370.75,251.88 371.00,251.82 371.25,251.73 371.50,251.61 371.75,251.48 372.00,251.34" stroke="#0068BD"/>
<polyline points="331.20,253.30 331.45,168.40 331.50,200.16 331.75,189.61 332.00,181.33 332.25,175.97 332.50,173.88 332.75,175.10 333.00,179.40 333.25,186.53 333.50,195.99 333.75,206.96 334.00,218.48 334.25,229.53 334.50,239.13 334.75,246.44 335.00,250.80 335.25,251.83 335.50,249.45 335.75,243.90 336.00,235.72 336.25,225.69 336.50,214.83 336.75,204.84 337.00,197.10 337.25,192.50 337.50,191.33 337.75,193.38 338.00,198.00 338.25,204.37 338.50,212.59 338.75,221.65 339.00,230.16 339.25,237.25 339.50,242.69 339.75,246.89 340.00,249.95 340.25,251.62 340.50,251.78 340.75,250.42 341.00,247.68 341.25,243.81 341.50,239.16 341.75,234.17 342.00,229.27 342.25,224.91 342.50,221.49 342.75,219.33 343.00,218.61 343.25,219.41 343.50,221.65 343.75,225.13 344.00,229.54 344.25,234.45 344.50,239.44 344.75,244.03 345.00,247.83 345.25,250.54 345.50,251.80 345.75,251.71 346.00,250.80 346.25,249.58 346.50,248.05 346.75,246.07 347.00,244.03 347.25,242.09 347.50,240.42 347.75,239.19 348.00,238.48 348.25,238.36 348.50,238.84 348.75,239.87 349.00,241.38 349.25,243.21 349.50,245.22 349.75,247.22 350.00,249.03 350.25,250.49 350.50,251.47 350.75,251.89 351.00,251.71 351.25,250.96 351.50,249.72 351.75,248.11 352.00,246.31 352.25,244.48 352.50,242.82 352.75,241.83 353.00,241.91 353.25,242.89 353.50,244.34 353.75,245.76 354.00,246.74 354.25,247.49 354.50,248.35 354.75,249.24 355.00,250.09 355.25,250.84 355.50,251.41 355.75,251.78 356.00,251.90 356.25,251.78 356.50,251.42 356.75,250.87 357.00,250.17 357.25,249.38 357.50,248.59 357.75,247.86 358.00,247.27 358.25,246.86 358.50,246.68 358.75,246.74 359.00,247.03 359.25,247.54 359.50,248.20 359.75,248.96 360.00,249.75 360.25,250.52 360.50,251.18 360.75,251.63 361.00,251.86 361.25,251.90 361.50,251.84 361.75,251.73 362.00,251.60 362.25,251.42 362.50,251.23 362.75,251.05 363.00,250.89 363.25,250.77 363.50,250.70 363.75,250.69 364.00,250.73 364.25,250.82 364.50,250.94 364.75,251.10 365.00,251.28 365.25,251.45 365.50,251.61 365.75,251.74 366.00,251.84 366.25,251.89 366.50,251.90 366.75,251.86 367.00,251.77 367.25,251.66 367.50,251.53 367.75,251.39 368.00,251.25 368.25,251.13 368.50,251.04 368.75,250.98 369.00,250.97 369.25,251.00 369.50,251.06 369.75,251.16 370.00,251.28 370.25,251.42 370.50,251.56 370.75,251.68 371.00,251.79 371.25,251.86 371.50,251.90 371.75,251.89 372.00,251.85" stroke="#F84400" stroke-dasharray="6,2,1.5,2"/>
<polyline points="331.20,253.30 331.45,168.40 331.50,249.19 331.75,243.16 332.00,234.47 332.25,224.00 332.50,212.75 332.75,201.66 333.00,191.61 333.25,183.46 333.50,178.04 333.75,175.82 334.00,177.00 334.25,181.49 334.50,188.88 334.75,198.52 335.00,209.55 335.25,220.96 335.50,231.74 335.75,240.89 336.00,247.61 336.25,251.29 336.50,251.63 336.75,248.70 337.00,243.11 337.25,235.86 337.50,228.09 337.75,220.84 338.00,214.86 338.25,210.49 338.50,208.81 338.75,209.98 339.00,213.10 339.25,216.98 339.50,220.54 339.75,224.26 340.00,228.85 340.25,233.94 340.50,239.06 340.75,243.77 341.00,247.68 341.25,250.42 341.50,251.78 341.75,251.63 342.00,249.99 342.25,247.01 342.50,242.97 342.75,238.24 343.00,233.25 343.25,228.46 343.50,224.30 343.75,221.18 344.00,219.36 344.25,219.03 344.50,220.20 344.75,222.77 345.00,226.50 345.25,231.82 345.50,238.08 345.75,243.68 346.00,247.76 346.25,250.21 346.50,251.43 346.75,251.89 347.00,251.70 347.25,250.90 347.50,249.58 347.75,247.86 348.00,245.91 348.25,243.90 348.50,242.01 348.75,240.41 349.00,239.25 349.25,238.62 349.50,238.59 349.75,239.16 350.00,240.27 350.25,241.83 350.50,243.70 350.75,245.71 351.00,247.67 351.25,249.40 351.50,250.75 351.75,251.61 352.00,251.90 352.25,251.62 352.50,250.80 352.75,249.64 353.00,248.48 353.25,247.63 353.50,247.20 353.75,247.03 354.00,246.74 354.25,246.35 354.50,246.19 354.75,246.29 355.00,246.62 355.25,247.16 355.50,247.86 355.75,248.67 356.00,249.50 356.25,250.30 356.50,250.99 356.75,251.51 357.00,251.82 357.25,251.90 357.50,251.73 357.75,251.33 358.00,250.76 358.25,250.05 358.50,249.28 358.75,248.52 359.00,247.85 359.25,247.33 359.50,247.01 359.75,246.92 360.00,247.07 360.25,247.55 360.50,248.35 360.75,249.28 361.00,250.17 361.25,250.88 361.50,251.38 361.75,251.67 362.00,251.82 362.25,251.89 362.50,251.90 362.75,251.84 363.00,251.74 363.25,251.60 363.50,251.43 363.75,251.26 364.00,251.09 364.25,250.95 364.50,250.85 364.75,250.80 365.00,250.79 365.25,250.83 365.50,250.92 365.75,251.04 366.00,251.19 366.25,251.35 366.50,251.51 366.75,251.66 367.00,251.77 367.25,251.86 367.50,251.90 367.75,251.89 368.00,251.85 368.25,251.76 368.50,251.65 368.75,251.52 369.00,251.38 369.25,251.25 369.50,251.13 369.75,251.05 370.00,251.00 370.25,250.99 370.50,251.02 370.75,251.09 371.00,251.19 371.25,251.32 371.50,251.45 371.75,251.58 372.00,251.71" stroke="#FAB000" stroke-dasharray="6,3"/>
<g stroke-width="2.2">
<line x1="372.0" y1="251.9" x2="537.4" y2="251.9" stroke="#0068BD"/>
<line x1="372.0" y1="251.9" x2="537.4" y2="251.9" stroke="#F84400" stroke-dasharray="3.0,10.85" stroke-dashoffset="1.60"/>
<line x1="372.0" y1="251.9" x2="537.4" y2="251.9" stroke="#FAB000" stroke-opacity="0.62" stroke-dasharray="8,5.85" stroke-dashoffset="9.60"/>
</g>
<polyline points="331.20,253.90 331.50,229.00 331.75,230.34 332.00,233.75 332.25,238.58 332.50,243.93 332.75,248.80 333.00,252.31 333.25,253.86 333.50,253.20 333.75,250.52 334.00,246.38 334.25,241.60 334.50,237.11 334.75,233.76 335.00,232.17 335.25,232.62 335.50,235.02 335.75,238.89 336.00,243.49 336.25,247.97 336.50,251.53 336.75,253.56 337.00,253.75 337.25,252.15 337.50,249.15 337.75,245.37 338.00,241.58 338.25,238.50 338.50,236.71 338.75,236.52 339.00,237.95 339.25,240.69 339.50,244.22 339.75,247.90 340.00,251.06 340.25,253.17 340.50,253.90 340.75,253.20 341.00,251.26 341.25,248.53 341.50,245.57 341.75,242.95 342.00,241.17 342.25,240.56 342.50,241.21 342.75,242.96 343.00,245.49 343.25,248.30 343.50,250.90 343.75,252.84 344.00,253.81 344.25,253.71 344.50,252.62 344.75,250.82 345.00,248.70 345.25,246.69 345.50,245.18 345.75,244.45 346.00,244.62 346.25,245.64 346.50,247.28 346.75,249.25 347.00,251.17 347.25,252.72 347.50,253.67 347.75,253.89 348.00,253.41 348.25,252.40 348.50,251.10 348.75,249.78 349.00,248.72 349.25,248.11 349.50,248.06 349.75,248.54 350.00,249.46 350.25,250.64 350.50,251.85 350.75,252.89 351.00,253.60 351.25,253.89 351.50,253.78 351.75,253.35 352.00,252.74 352.25,252.11 352.50,251.59 352.75,251.30 353.00,251.26 353.25,251.48 353.50,251.88 353.75,252.39 354.00,252.91 354.25,253.37 354.50,253.70 354.75,253.87 355.00,253.89 355.25,253.76 355.50,253.52 355.75,253.23 356.00,252.95 356.25,252.72 356.50,252.60 356.75,252.61 357.00,252.73 357.25,252.94 357.50,253.21 357.75,253.48 358.00,253.70 358.25,253.85 358.50,253.90 358.75,253.85 359.00,253.73 359.25,253.56 359.50,253.38 359.75,253.22 360.00,253.13 360.25,253.11 360.50,253.16 360.75,253.27 361.00,253.43 361.25,253.59 361.50,253.74 361.75,253.84 362.00,253.90 362.25,253.89 362.50,253.84 362.75,253.75 363.00,253.65 363.25,253.56 363.50,253.50 363.75,253.47 364.00,253.49 364.25,253.54 364.50,253.62 364.75,253.71 365.00,253.79 365.25,253.85 365.50,253.89 365.75,253.90 366.00,253.88 366.25,253.84 366.50,253.80 366.75,253.75 367.00,253.72 367.25,253.70 367.50,253.70 367.75,253.72 368.00,253.75 368.25,253.79 368.50,253.83 368.75,253.87 369.00,253.89 369.25,253.90 369.50,253.90 369.75,253.88 370.00,253.86 370.25,253.84 370.50,253.82 370.75,253.80 371.00,253.80 371.25,253.80 371.50,253.81 371.75,253.83 372.00,253.85 537.4,253.9" stroke="#801a8e" stroke-dasharray="0.01,3.5" stroke-linecap="round" stroke-width="2.3"/>
</g>
<g font-family="Liberation Sans, Arial, sans-serif" font-size="12.3" fill="#262626" stroke="#262626" stroke-width="0.25">
<text x="331.20" y="270.25" text-anchor="middle">0</text>
<text x="383.00" y="270.25" text-anchor="middle">5</text>
<text x="434.95" y="270.25" text-anchor="middle">10</text>
<text x="486.90" y="270.25" text-anchor="middle">15</text>
<text x="537.70" y="270.25" text-anchor="middle">20</text>
<text x="327.20" y="259.00" text-anchor="end">0</text>
<text x="327.20" y="201.90" text-anchor="end">2</text>
</g>
<text transform="translate(435.10,287.85) scale(0.93,1)" text-anchor="middle" font-family="Liberation Sans, Arial, sans-serif" font-size="14.6" fill="#262626" stroke="#262626" stroke-width="0.25">t (sec)</text>
<line x1="111.70" y1="306.05" x2="111.70" y2="391.3" stroke="#e3e3e3" stroke-width="1"/>
<line x1="163.65" y1="306.05" x2="163.65" y2="391.3" stroke="#e3e3e3" stroke-width="1"/>
<line x1="214.80" y1="306.05" x2="214.80" y2="391.3" stroke="#e3e3e3" stroke-width="1"/>
<rect x="60.65" y="306.05" width="204.85" height="85.25" fill="none" stroke="#4a4a4a" stroke-width="1.5"/>
<line x1="111.70" y1="391.3" x2="111.70" y2="389.30" stroke="#262626" stroke-width="1"/>
<line x1="111.70" y1="306.05" x2="111.70" y2="308.05" stroke="#262626" stroke-width="1"/>
<line x1="163.65" y1="391.3" x2="163.65" y2="389.30" stroke="#262626" stroke-width="1"/>
<line x1="163.65" y1="306.05" x2="163.65" y2="308.05" stroke="#262626" stroke-width="1"/>
<line x1="214.80" y1="391.3" x2="214.80" y2="389.30" stroke="#262626" stroke-width="1"/>
<line x1="214.80" y1="306.05" x2="214.80" y2="308.05" stroke="#262626" stroke-width="1"/>
<g clip-path="url(#cE)" fill="none" stroke-width="2.5" stroke-linejoin="round">
<polyline points="60.20,391.20 60.55,322.00 60.60,322.00 60.85,326.39 61.10,334.84 61.35,345.95 61.60,358.03 61.85,369.36 62.10,378.43 62.35,384.18 62.60,386.10 62.85,384.32 63.10,379.53 63.35,372.81 63.60,365.45 63.85,358.72 64.10,353.68 64.35,351.02 64.60,351.06 64.85,353.71 65.10,358.48 65.35,364.60 65.60,371.16 65.85,377.23 66.10,382.05 66.35,385.09 66.60,386.10 66.85,385.15 67.10,382.58 67.35,378.91 67.60,374.81 67.85,370.98 68.10,368.02 68.35,366.37 68.60,366.27 68.85,367.70 69.10,370.37 69.35,373.84 69.60,377.56 69.85,381.02 70.10,383.78 70.35,385.52 70.60,386.10 70.85,385.55 71.10,384.01 71.35,381.79 71.60,379.26 71.85,376.83 72.10,374.90 72.35,373.78 72.60,373.65 72.85,374.52 73.10,376.20 73.35,378.40 73.60,380.77 73.85,382.95 74.10,384.67 74.35,385.74 74.60,386.10 74.85,385.77 75.10,384.89 75.35,383.64 75.60,382.26 75.85,381.00 76.10,380.06 76.35,379.58 76.60,379.62 76.85,380.17 77.10,381.12 77.35,382.29 77.60,383.50 77.85,384.59 78.10,385.43 78.35,385.94 78.60,386.10 78.85,385.96 79.10,385.59 79.35,385.08 79.60,384.56 79.85,384.10 80.10,383.80 80.35,383.67 80.60,383.75 80.85,383.99 81.10,384.36 81.35,384.80 81.60,385.23 81.85,385.61 82.10,385.89 82.35,386.05 82.60,386.10 82.85,386.06 83.10,385.97 83.35,385.85 83.60,385.75 83.85,385.66 84.10,385.61 84.35,385.59 84.60,385.62 84.85,385.68 85.10,385.76 85.35,385.85 85.60,385.94 85.85,386.01 86.10,386.06 86.35,386.09 86.60,386.10 86.85,386.09 87.10,386.08 87.35,386.06 87.60,386.04 87.85,386.03 88.10,386.02 88.35,386.02 88.60,386.02 88.85,386.04 89.10,386.05 89.35,386.07 89.60,386.08 89.85,386.09 90.10,386.10 90.35,386.10 90.60,386.10 90.85,386.10 91.10,386.10 91.35,386.10 91.60,386.10 91.85,386.10" stroke="#0068BD"/>
<polyline points="60.20,391.20 60.55,322.00 60.60,326.72 60.85,324.41 61.10,326.87 61.35,333.57 61.60,343.37 61.85,354.75 62.10,366.03 62.35,375.70 62.60,382.52 62.85,385.81 63.10,385.48 63.35,381.99 63.60,376.24 63.85,369.40 64.10,362.67 64.35,357.15 64.60,353.64 64.85,352.63 65.10,354.19 65.35,357.97 65.60,363.35 65.85,369.48 66.10,375.49 66.35,380.60 66.60,384.20 66.85,385.95 67.10,385.77 67.35,383.87 67.60,380.71 67.85,376.87 68.10,373.03 68.35,369.82 68.60,367.74 68.85,367.09 69.10,367.93 69.35,370.06 69.60,373.10 69.85,376.59 70.10,380.02 70.35,382.93 70.60,385.00 70.85,386.01 71.10,385.90 71.35,384.77 71.60,382.83 71.85,380.44 72.10,378.00 72.35,375.93 72.60,374.57 72.85,374.13 73.10,374.66 73.35,376.03 73.60,377.98 73.85,380.21 74.10,382.37 74.35,384.18 74.60,385.44 74.85,386.05 75.10,385.99 75.35,385.34 75.60,384.27 75.85,382.99 76.10,381.73 76.35,380.72 76.60,380.10 76.85,379.98 77.10,380.34 77.35,381.11 77.60,382.15 77.85,383.28 78.10,384.35 78.35,385.22 78.60,385.81 78.85,386.08 79.10,386.05 79.35,385.79 79.60,385.36 79.85,384.88 80.10,384.44 80.35,384.10 80.60,383.92 80.85,383.92 81.10,384.09 81.35,384.40 81.60,384.78 81.85,385.19 82.10,385.55 82.35,385.84 82.60,386.02 82.85,386.09 83.10,386.09 83.35,386.02 83.60,385.93 83.85,385.83 84.10,385.74 84.35,385.68 84.60,385.65 84.85,385.66 85.10,385.71 85.35,385.78 85.60,385.86 85.85,385.93 86.10,386.00 86.35,386.05 86.60,386.09 86.85,386.10 87.10,386.10 87.35,386.09 87.60,386.07 87.85,386.05 88.10,386.04 88.35,386.03 88.60,386.03 88.85,386.03 89.10,386.04 89.35,386.06 89.60,386.07 89.85,386.08 90.10,386.09 90.35,386.10 90.60,386.10 90.85,386.10 91.10,386.10 91.35,386.10 91.60,386.10 91.85,386.10" stroke="#F84400" stroke-dasharray="6,2,1.5,2"/>
<polyline points="60.20,391.20 60.55,322.00 60.60,339.50 60.85,331.47 61.10,327.51 61.35,328.11 61.60,333.03 61.85,341.38 62.10,351.83 62.35,362.84 62.60,372.83 62.85,380.50 63.10,385.00 63.35,386.03 63.60,383.85 63.85,379.16 64.10,372.98 64.35,366.44 64.60,360.63 64.85,356.46 65.10,354.53 65.35,355.05 65.60,357.84 65.85,362.39 66.10,367.99 66.35,373.81 66.60,379.07 66.85,383.12 67.10,385.51 67.35,386.06 67.60,384.87 67.85,382.27 68.10,378.78 68.35,375.04 68.60,371.69 68.85,369.26 69.10,368.12 69.35,368.39 69.60,369.96 69.85,372.54 70.10,375.71 70.35,379.02 70.60,382.02 70.85,384.35 71.10,385.75 71.35,386.08 71.60,385.35 71.85,383.75 72.10,381.56 72.35,379.19 72.60,377.05 72.85,375.50 73.10,374.78 73.35,374.98 73.60,376.02 73.85,377.69 74.10,379.72 74.35,381.80 74.60,383.65 74.85,385.07 75.10,385.90 75.35,386.09 75.60,385.68 75.85,384.81 76.10,383.65 76.35,382.44 76.60,381.39 76.85,380.68 77.10,380.40 77.35,380.59 77.60,381.19 77.85,382.08 78.10,383.11 78.35,384.13 78.60,385.01 78.85,385.65 79.10,386.01 79.35,386.09 79.60,385.93 79.85,385.59 80.10,385.17 80.35,384.74 80.60,384.39 80.85,384.17 81.10,384.11 81.35,384.22 81.60,384.46 81.85,384.80 82.10,385.17 82.35,385.51 82.60,385.79 82.85,385.98 83.10,386.08 83.35,386.10 83.60,386.06 83.85,385.99 84.10,385.90 84.35,385.81 84.60,385.75 84.85,385.71 85.10,385.71 85.35,385.74 85.60,385.80 85.85,385.86 86.10,385.93 86.35,386.00 86.60,386.05 86.85,386.08 87.10,386.10 87.35,386.10 87.60,386.09 87.85,386.08 88.10,386.07 88.35,386.05 88.60,386.04 88.85,386.04 89.10,386.04 89.35,386.05 89.60,386.06 89.85,386.07 90.10,386.08 90.35,386.09 90.60,386.10 90.85,386.10 91.10,386.10 91.35,386.10 91.60,386.10 91.85,386.10" stroke="#FAB000" stroke-dasharray="6,3"/>
<g stroke-width="2.2">
<line x1="92.0" y1="386.1" x2="265.5" y2="386.1" stroke="#0068BD"/>
<line x1="92.0" y1="386.1" x2="265.5" y2="386.1" stroke="#F84400" stroke-dasharray="2.5,11.35" stroke-dashoffset="0.25"/>
<line x1="92.0" y1="386.1" x2="265.5" y2="386.1" stroke="#FAB000" stroke-opacity="0.62" stroke-dasharray="8,5.85" stroke-dashoffset="9.25"/>
</g>
<polyline points="60.20,391.80 60.60,378.50 60.85,379.48 61.10,381.87 61.35,385.00 61.60,388.05 61.85,390.22 62.10,391.00 62.35,390.25 62.60,388.26 62.85,385.65 63.10,383.17 63.35,381.51 63.60,381.09 63.85,381.99 64.10,383.95 64.35,386.42 64.60,388.77 64.85,390.42 65.10,391.00 65.35,390.45 65.60,389.02 65.85,387.17 66.10,385.46 66.35,384.39 66.60,384.25 66.85,385.02 67.10,386.45 67.35,388.13 67.60,389.64 67.85,390.66 68.10,391.00 68.35,390.69 68.60,389.89 68.85,388.88 69.10,387.98 69.35,387.43 69.60,387.37 69.85,387.79 70.10,388.56 70.35,389.46 70.60,390.27 70.85,390.81 71.10,391.00 71.35,390.83 71.60,390.41 71.85,389.87 72.10,389.38 72.35,389.07 72.60,389.02 72.85,389.23 73.10,389.64 73.35,390.13 73.60,390.58 73.85,390.89 74.10,391.00 74.35,390.90 74.60,390.65 74.85,390.33 75.10,390.04 75.35,389.86 75.60,389.83 75.85,389.96 76.10,390.20 76.35,390.49 76.60,390.76 76.85,390.94 77.10,391.00 77.35,390.94 77.60,390.81 77.85,390.64 78.10,390.49 78.35,390.41 78.60,390.41 78.85,390.49 79.10,390.63 79.35,390.77 79.60,390.90 79.85,390.98 80.10,391.00 80.35,390.98 80.60,390.94 80.85,390.90 81.10,390.87 81.35,390.88 81.60,390.90 81.85,390.94 82.10,390.98 82.35,391.00 82.60,391.01 82.85,391.00 83.10,391.00 83.35,391.01 83.60,391.04 83.85,391.09 84.10,391.16 84.35,391.22 84.60,391.26 84.85,391.27 85.10,391.23 85.35,391.17 85.60,391.09 85.85,391.03 86.10,391.00 86.35,391.03 86.60,391.11 86.85,391.24 87.10,391.37 87.35,391.48 87.60,391.54 87.85,391.52 88.10,391.43 88.35,391.30 88.60,391.15 88.85,391.04 89.10,391.00 89.35,391.04 89.60,391.17 89.85,391.35 90.10,391.54 90.35,391.68 90.60,391.74 90.85,391.70 91.10,391.57 91.35,391.39 91.60,391.20 91.85,391.05 265.5,391.8" stroke="#801a8e" stroke-dasharray="0.01,3.5" stroke-linecap="round" stroke-width="2.3"/>
</g>
<g font-family="Liberation Sans, Arial, sans-serif" font-size="12.3" fill="#262626" stroke="#262626" stroke-width="0.25">
<text x="60.25" y="408.30" text-anchor="middle">0</text>
<text x="112.00" y="408.30" text-anchor="middle">5</text>
<text x="163.95" y="408.30" text-anchor="middle">10</text>
<text x="215.10" y="408.30" text-anchor="middle">15</text>
<text x="265.80" y="408.30" text-anchor="middle">20</text>
<text x="56.25" y="397.05" text-anchor="end">0</text>
<text x="56.25" y="310.65" text-anchor="end">5</text>
</g>
<text transform="translate(163.67,425.90) scale(0.93,1)" text-anchor="middle" font-family="Liberation Sans, Arial, sans-serif" font-size="14.6" fill="#262626" stroke="#262626" stroke-width="0.25">t (sec)</text>
<line x1="382.70" y1="306.05" x2="382.70" y2="391.3" stroke="#e3e3e3" stroke-width="1"/>
<line x1="434.65" y1="306.05" x2="434.65" y2="391.3" stroke="#e3e3e3" stroke-width="1"/>
<line x1="486.60" y1="306.05" x2="486.60" y2="391.3" stroke="#e3e3e3" stroke-width="1"/>
<line x1="331.6" y1="349.30" x2="537.4" y2="349.30" stroke="#e3e3e3" stroke-width="1"/>
<rect x="331.6" y="306.05" width="205.80" height="85.25" fill="none" stroke="#4a4a4a" stroke-width="1.5"/>
<line x1="382.70" y1="391.3" x2="382.70" y2="389.30" stroke="#262626" stroke-width="1"/>
<line x1="382.70" y1="306.05" x2="382.70" y2="308.05" stroke="#262626" stroke-width="1"/>
<line x1="434.65" y1="391.3" x2="434.65" y2="389.30" stroke="#262626" stroke-width="1"/>
<line x1="434.65" y1="306.05" x2="434.65" y2="308.05" stroke="#262626" stroke-width="1"/>
<line x1="486.60" y1="391.3" x2="486.60" y2="389.30" stroke="#262626" stroke-width="1"/>
<line x1="486.60" y1="306.05" x2="486.60" y2="308.05" stroke="#262626" stroke-width="1"/>
<line x1="331.6" y1="349.30" x2="333.60" y2="349.30" stroke="#262626" stroke-width="1"/>
<line x1="537.4" y1="349.30" x2="535.40" y2="349.30" stroke="#262626" stroke-width="1"/>
<g clip-path="url(#cF)" fill="none" stroke-width="2.5" stroke-linejoin="round">
<polyline points="331.30,391.30 331.10,322.50 331.30,330.43 331.50,339.86 331.70,351.72 331.90,366.64 332.10,370.71 332.30,371.67 332.50,372.00 332.70,369.08 332.90,363.84 333.10,360.72 333.30,358.64 333.50,358.65 333.70,360.91 333.90,364.00 334.10,368.73 334.30,373.80 334.50,375.43 334.70,376.10 334.90,376.45 335.10,376.26 335.30,374.81 335.50,373.05 335.70,372.20 335.90,373.17 336.10,375.22 336.30,377.06 336.50,377.69 336.70,378.03 336.90,378.28 337.10,378.44 337.30,378.50 337.50,377.78 337.70,376.20 337.90,374.62 338.10,373.90 338.30,374.56 338.50,376.04 338.70,377.60 338.90,378.50 339.10,378.81 339.30,379.06 339.50,379.27 339.70,379.41 339.90,379.49 340.10,379.42 340.30,378.90 340.50,378.10 340.70,377.30 340.90,376.78 341.10,376.79 341.30,377.37 341.50,378.25 341.70,379.13 341.90,379.71 342.10,379.80 342.30,379.78 342.50,379.74 342.70,379.69 342.90,379.63 343.10,379.57 343.30,379.51 343.50,379.46 343.70,379.42 343.90,379.40 344.10,379.40 344.30,379.42 344.50,379.45 344.70,379.48 344.90,379.53 345.10,379.57 345.30,379.62 345.50,379.65 345.70,379.68 345.90,379.70 346.10,379.70 346.30,379.70 346.50,379.70 346.70,379.70 346.90,379.70 347.10,379.70 347.30,379.70 347.50,379.69 347.70,379.69 347.90,379.69 348.10,379.69 348.30,379.68 348.50,379.68 348.70,379.67 348.90,379.66 349.10,379.65 349.30,379.64 349.50,379.63 349.70,379.62 349.90,379.61" stroke="#0068BD"/>
<polyline points="331.30,391.30 331.10,322.50 331.30,342.70 331.50,358.38 331.70,369.59 331.90,371.43 332.10,372.20 332.30,372.17 332.50,368.37 332.70,363.63 332.90,361.07 333.10,359.45 333.30,360.09 333.50,362.56 333.70,365.63 333.90,370.62 334.10,374.82 334.30,375.82 334.50,376.38 334.70,376.64 334.90,376.17 335.10,374.61 335.30,373.05 335.50,372.64 335.70,373.93 335.90,375.94 336.10,377.45 336.30,377.87 336.50,378.17 336.70,378.39 336.90,378.52 337.10,378.51 337.30,377.54 337.50,375.96 337.70,374.59 337.90,374.23 338.10,375.12 338.30,376.61 338.50,378.00 338.70,378.63 338.90,378.91 339.10,379.15 339.30,379.33 339.50,379.45 339.70,379.50 339.90,379.34 340.10,378.76 340.30,377.98 340.50,377.26 340.70,376.86 340.90,377.02 341.10,377.67 341.30,378.54 341.50,379.33 341.70,379.77 341.90,379.78 342.10,379.76 342.30,379.72 342.50,379.67 342.70,379.61 342.90,379.56 343.10,379.50 343.30,379.46 343.50,379.43 343.70,379.41 343.90,379.41 344.10,379.43 344.30,379.46 344.50,379.50 344.70,379.54 344.90,379.58 345.10,379.62 345.30,379.66 345.50,379.68 345.70,379.69 345.90,379.69 346.10,379.69 346.30,379.69 346.50,379.69 346.70,379.69 346.90,379.69 347.10,379.69 347.30,379.69 347.50,379.69 347.70,379.69 347.90,379.68 348.10,379.68 348.30,379.67 348.50,379.67 348.70,379.66 348.90,379.66 349.10,379.65 349.30,379.64 349.50,379.63 349.70,379.62 349.90,379.61" stroke="#F84400" stroke-dasharray="6,2,1.5,2"/>
<polyline points="331.30,391.30 331.10,322.50 331.30,327.87 331.50,335.14 331.70,343.75 331.90,356.16 332.10,369.21 332.30,371.26 332.50,372.05 332.70,372.01 332.90,368.13 333.10,363.29 333.30,360.68 333.50,359.03 333.70,359.67 333.90,362.20 334.10,365.34 334.30,370.43 334.50,374.72 334.70,375.74 334.90,376.32 335.10,376.58 335.30,376.10 335.50,374.51 335.70,372.91 335.90,372.49 336.10,373.81 336.30,375.86 336.50,377.40 336.70,377.84 336.90,378.14 337.10,378.37 337.30,378.50 337.50,378.48 337.70,377.50 337.90,375.89 338.10,374.48 338.30,374.12 338.50,375.02 338.70,376.54 338.90,377.96 339.10,378.61 339.30,378.90 339.50,379.14 339.70,379.32 339.90,379.44 340.10,379.50 340.30,379.34 340.50,378.74 340.70,377.94 340.90,377.21 341.10,376.81 341.30,376.97 341.50,377.63 341.70,378.52 341.90,379.32 342.10,379.77 342.30,379.79 342.50,379.76 342.70,379.72 342.90,379.67 343.10,379.61 343.30,379.56 343.50,379.50 343.70,379.46 343.90,379.42 344.10,379.41 344.30,379.41 344.50,379.43 344.70,379.46 344.90,379.50 345.10,379.54 345.30,379.58 345.50,379.62 345.70,379.66 345.90,379.68 346.10,379.70 346.30,379.70 346.50,379.70 346.70,379.70 346.90,379.70 347.10,379.70 347.30,379.69 347.50,379.69 347.70,379.69 347.90,379.69 348.10,379.68 348.30,379.68 348.50,379.67 348.70,379.67 348.90,379.66 349.10,379.65 349.30,379.64 349.50,379.63 349.70,379.62 349.90,379.61" stroke="#FAB000" stroke-dasharray="6,3"/>
<g stroke-width="2.2">
<line x1="350.0" y1="379.6" x2="537.4" y2="379.6" stroke="#0068BD"/>
<line x1="350.0" y1="379.6" x2="537.4" y2="379.6" stroke="#F84400" stroke-dasharray="3.3,10.55" stroke-dashoffset="9.80"/>
<line x1="350.0" y1="379.6" x2="537.4" y2="379.6" stroke="#FAB000" stroke-opacity="0.62" stroke-dasharray="8,5.85" stroke-dashoffset="3.95"/>
</g>
<polyline points="331.30,391.90 331.80,387.50 332.00,388.37 332.20,389.00 332.40,389.37 332.60,389.50 332.80,389.18 333.00,388.46 333.20,387.65 333.40,387.09 333.60,387.04 333.80,387.32 334.00,387.75 334.20,388.18 334.40,388.46 334.60,388.45 334.80,388.13 335.00,387.65 335.20,387.17 335.40,386.85 335.60,386.84 335.80,387.11 336.00,387.53 336.20,387.99 336.40,388.37 336.60,388.60 336.80,388.79 337.00,388.97 337.20,389.13 337.40,389.27 337.60,389.39 337.80,389.46 338.00,389.50 338.20,389.51 338.40,389.52 338.60,389.53 338.80,389.54 339.00,389.55 339.20,389.55 339.40,389.55 339.60,389.56 339.80,389.56 340.00,389.57 340.20,389.57 340.40,389.58 340.60,389.58 340.80,389.59 341.00,389.60 341.20,389.61 341.40,389.63 341.60,389.65 341.80,389.68 342.00,389.71 342.20,389.75 342.40,389.78 342.60,389.82 342.80,389.86 343.00,389.91 343.20,389.95 343.40,390.00 343.60,390.05 343.80,390.10 344.00,390.15 344.20,390.20 344.40,390.25 344.60,390.30 344.80,390.35 345.00,390.40 345.20,390.45 345.40,390.50 345.60,390.55 345.80,390.60 346.00,390.65 346.20,390.71 346.40,390.76 346.60,390.81 346.80,390.87 347.00,390.93 347.20,390.99 347.40,391.05 347.60,391.11 347.80,391.17 348.00,391.23 348.20,391.29 348.40,391.36 348.60,391.42 348.80,391.49 349.00,391.55 349.20,391.62 349.40,391.69 349.60,391.76 349.80,391.83 350.00,391.90 537.4,391.9" stroke="#801a8e" stroke-dasharray="0.01,3.5" stroke-linecap="round" stroke-width="2.3"/>
</g>
<g font-family="Liberation Sans, Arial, sans-serif" font-size="12.3" fill="#262626" stroke="#262626" stroke-width="0.25">
<text x="331.20" y="408.30" text-anchor="middle">0</text>
<text x="383.00" y="408.30" text-anchor="middle">5</text>
<text x="434.95" y="408.30" text-anchor="middle">10</text>
<text x="486.90" y="408.30" text-anchor="middle">15</text>
<text x="537.70" y="408.30" text-anchor="middle">20</text>
<text x="327.20" y="397.05" text-anchor="end">0</text>
<text x="327.20" y="354.10" text-anchor="end">5</text>
<text x="327.20" y="310.65" text-anchor="end">10</text>
</g>
<text transform="translate(435.10,425.90) scale(0.93,1)" text-anchor="middle" font-family="Liberation Sans, Arial, sans-serif" font-size="14.6" fill="#262626" stroke="#262626" stroke-width="0.25">t (sec)</text>
<rect x="51.6" y="6.3" width="300" height="19.1" fill="#fff" stroke="#4a4a4a" stroke-width="1.5"/>
<line x1="57" y1="16.2" x2="100.5" y2="16.2" stroke="#0068BD" stroke-width="2"/>
<line x1="131.5" y1="16.2" x2="172.9" y2="16.2" stroke="#F84400" stroke-width="2" stroke-dasharray="8.3,2.2,4,2.2"/>
<line x1="205.5" y1="16.2" x2="213.8" y2="16.2" stroke="#FAB000" stroke-width="2"/>
<line x1="217" y1="16.2" x2="222.8" y2="16.2" stroke="#FAB000" stroke-width="2"/>
<line x1="230.8" y1="16.2" x2="239.1" y2="16.2" stroke="#FAB000" stroke-width="2"/>
<line x1="247" y1="16.2" x2="248.7" y2="16.2" stroke="#FAB000" stroke-width="2"/>
<line x1="280.1" y1="16.2" x2="322.5" y2="16.2" stroke="#801a8e" stroke-width="2.2" stroke-linecap="round" stroke-dasharray="0.01,4.18"/>
<text transform="translate(103.50,19.8) scale(1.1,1)" font-family="Liberation Serif, serif" font-style="italic" font-size="12.4" fill="#000">Ŵ</text>
<text x="115.00" y="21.4" font-family="Liberation Serif, serif" font-style="italic" font-size="8.8" fill="#000">ix</text>
<text transform="translate(177.70,19.8) scale(1.1,1)" font-family="Liberation Serif, serif" font-style="italic" font-size="12.4" fill="#000">Ŵ</text>
<text x="189.20" y="21.4" font-family="Liberation Serif, serif" font-style="italic" font-size="8.8" fill="#000">iy</text>
<text transform="translate(251.70,19.8) scale(1.1,1)" font-family="Liberation Serif, serif" font-style="italic" font-size="12.4" fill="#000">Ŵ</text>
<text x="263.20" y="21.4" font-family="Liberation Serif, serif" font-style="italic" font-size="8.8" fill="#000">iz</text>
<text transform="translate(325.70,19.8) scale(1.1,1)" font-family="Liberation Serif, serif" font-style="italic" font-size="12.4" fill="#000">Ŵ</text>
<text x="337.20" y="21.4" font-family="Liberation Serif, serif" font-style="italic" font-size="8.8" fill="#000">iψ</text>
<text transform="translate(27.5,216.4) rotate(-90) scale(0.82,1)" text-anchor="middle" font-family="Liberation Sans, Arial, sans-serif" font-size="24.4" fill="#000" stroke="#000" stroke-width="0.3">Weights of RBF NN (N=6)</text>
</svg>
</body></html>
